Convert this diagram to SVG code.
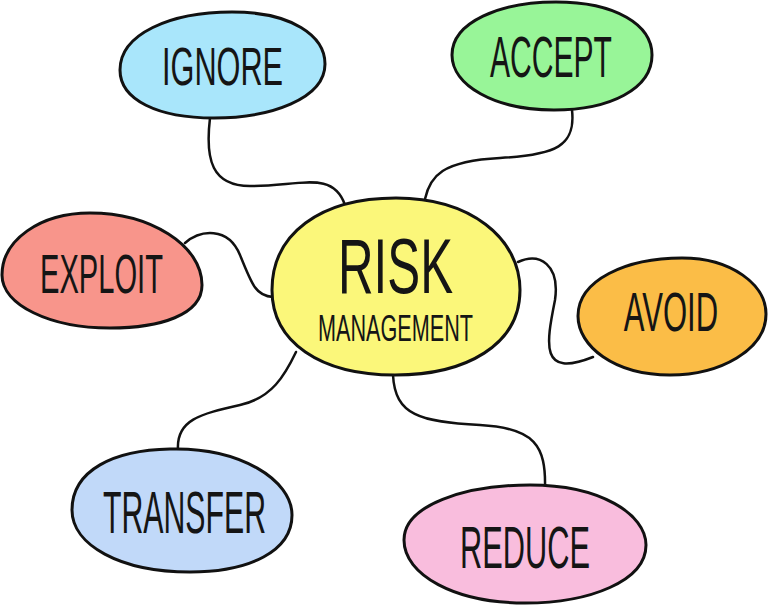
<svg xmlns="http://www.w3.org/2000/svg" width="768" height="607" viewBox="0 0 768 607">
<style>
.blob{stroke:#111;stroke-width:3;stroke-linejoin:round}
.con{fill:none;stroke:#111;stroke-width:2.5;stroke-linecap:round}
.lbl{font-family:"Liberation Sans","DejaVu Sans",sans-serif;fill:#151515;text-anchor:middle}
</style>
<rect width="768" height="607" fill="#ffffff"/>
<g id="connectors">
<path class="con" d="M210,118 C205,160 212,186 250,186 C300,186 333,170 345,205"/>
<path class="con" d="M572,110 C576,146 556,155 500,158 C442,161 430,176 425,199"/>
<path class="con" d="M185,243 C200,230 228,226 240,255 C252,285 256,296 273,297"/>
<path class="con" d="M518,262 C540,252 560,265 555,300 C546,345 540,378 593,357"/>
<path class="con" d="M178,450 C176,420 200,414 240,405 C272,398 285,375 296,352"/>
<path class="con" d="M393,375 C395,415 420,422 480,425 C535,428 546,446 545,488"/>
</g>
<g id="center">
<path class="blob" fill="#fbf77a" d="M396,198 C470,198 520,238 520,290 C520,345 466,375 395,375 C320,375 272,342 272,290 C272,234 320,198 396,198 Z"/>
<text class="lbl" x="395.5" y="293" font-size="78" textLength="115" lengthAdjust="spacingAndGlyphs">RISK</text>
<text class="lbl" x="395.5" y="341" font-size="37" textLength="155" lengthAdjust="spacingAndGlyphs">MANAGEMENT</text>
</g>
<g id="ignore">
<path class="blob" fill="#a9e6fb" d="M232,12 C292,12 325,36 325,64 C325,99 270,118 214,118 C158,118 120,100 120,70 C120,34 170,12 232,12 Z"/>
<text class="lbl" x="222.5" y="85" font-size="53" textLength="121" lengthAdjust="spacingAndGlyphs">IGNORE</text>
</g>
<g id="accept">
<path class="blob" fill="#98f598" d="M556,2 C616,2 652,25 652,55 C652,89 610,110 554,110 C494,110 452,85 452,55 C452,22 500,2 556,2 Z"/>
<text class="lbl" x="551" y="77" font-size="58" textLength="122" lengthAdjust="spacingAndGlyphs">ACCEPT</text>
</g>
<g id="exploit">
<path class="blob" fill="#f8958b" d="M90,213 C150,213 202,245 202,285 C202,315 160,328 110,328 C50,328 2,305 2,275 C2,240 40,213 90,213 Z"/>
<text class="lbl" x="101.5" y="293" font-size="55" textLength="123" lengthAdjust="spacingAndGlyphs">EXPLOIT</text>
</g>
<g id="avoid">
<path class="blob" fill="#fbbd47" d="M682,258 C732,258 766,285 766,314 C766,350 720,375 670,375 C614,375 578,346 578,316 C578,280 626,258 682,258 Z"/>
<text class="lbl" transform="translate(671,331) scale(0.565,1)" x="0" y="0" font-size="55">AVOID</text>
</g>
<g id="transfer">
<path class="blob" fill="#c1d9f9" d="M170,449 C240,447 292,480 292,515 C292,551 250,572 190,572 C120,572 72,545 72,510 C72,470 114,450 170,449 Z"/>
<text class="lbl" x="184.5" y="533" font-size="59" textLength="163" lengthAdjust="spacingAndGlyphs">TRANSFER</text>
</g>
<g id="reduce">
<path class="blob" fill="#f9bddd" d="M530,485 C600,485 646,514 646,545 C646,581 590,603 525,603 C455,603 404,575 404,540 C404,505 465,485 530,485 Z"/>
<text class="lbl" x="525" y="568" font-size="60" textLength="130" lengthAdjust="spacingAndGlyphs">REDUCE</text>
</g>
</svg>
